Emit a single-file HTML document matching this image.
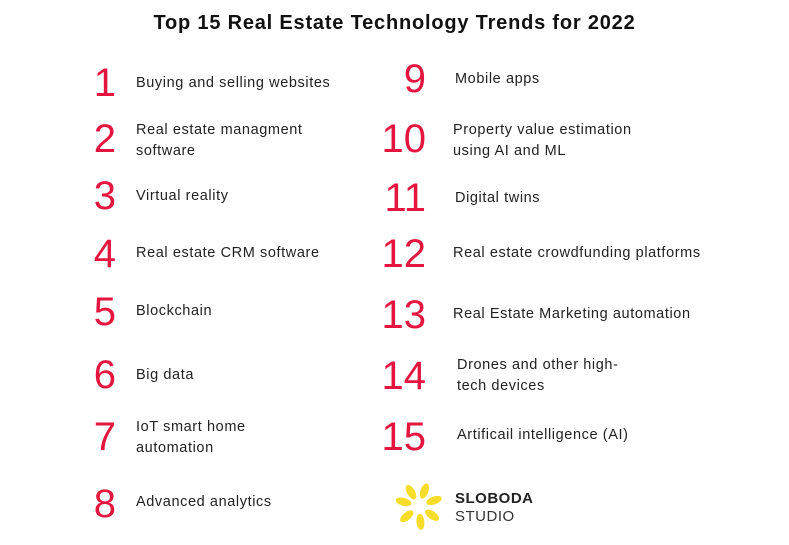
<!DOCTYPE html>
<html><head><style>
body{margin:0;width:789px;height:545px;background:#fff;position:relative;overflow:hidden;font-family:"Liberation Sans",sans-serif}
.t{position:absolute;left:0;width:789px;top:12px;text-align:center;font-weight:bold;font-size:20px;letter-spacing:0.8px;color:#111}
.n{position:absolute;color:#e4163f;font-size:40px;line-height:40px;text-align:right;width:60px;font-weight:normal}
.x{position:absolute;font-size:14.5px;line-height:21px;color:#222;letter-spacing:0.6px}
</style></head><body>
<div class="t">Top 15 Real Estate Technology Trends for 2022</div>

<div class="n" style="left:56px;top:63px">1</div><div class="x" style="left:136px;top:73px">Buying and selling websites</div>
<div class="n" style="left:56px;top:119px">2</div><div class="x" style="left:136px;top:120px">Real estate managment<br>software</div>
<div class="n" style="left:56px;top:176px">3</div><div class="x" style="left:136px;top:186px">Virtual reality</div>
<div class="n" style="left:56px;top:234px">4</div><div class="x" style="left:136px;top:243px">Real estate CRM software</div>
<div class="n" style="left:56px;top:292px">5</div><div class="x" style="left:136px;top:301px">Blockchain</div>
<div class="n" style="left:56px;top:355px">6</div><div class="x" style="left:136px;top:365px">Big data</div>
<div class="n" style="left:56px;top:417px">7</div><div class="x" style="left:136px;top:417px">IoT smart home<br>automation</div>
<div class="n" style="left:56px;top:484px">8</div><div class="x" style="left:136px;top:492px">Advanced analytics</div>

<div class="n" style="left:366px;top:59px">9</div><div class="x" style="left:455px;top:69px">Mobile apps</div>
<div class="n" style="left:366px;top:119px">10</div><div class="x" style="left:453px;top:120px">Property value estimation<br>using AI and ML</div>
<div class="n" style="left:366px;top:178px">11</div><div class="x" style="left:455px;top:188px">Digital twins</div>
<div class="n" style="left:366px;top:234px">12</div><div class="x" style="left:453px;top:243px">Real estate crowdfunding platforms</div>
<div class="n" style="left:366px;top:295px">13</div><div class="x" style="left:453px;top:304px">Real Estate Marketing automation</div>
<div class="n" style="left:366px;top:356px">14</div><div class="x" style="left:457px;top:355px">Drones and other high-<br>tech devices</div>
<div class="n" style="left:366px;top:417px">15</div><div class="x" style="left:457px;top:425px">Artificail intelligence (AI)</div>

<svg style="position:absolute;left:393px;top:480px" width="52" height="52" viewBox="-26 -26 52 52">
<g fill="#f7dd2a">
<ellipse cx="0" cy="-16" rx="4" ry="8" transform="rotate(20)"/>
<ellipse cx="0" cy="-16" rx="4" ry="8" transform="rotate(70)"/>
<ellipse cx="0" cy="-16" rx="4" ry="8" transform="rotate(125)"/>
<ellipse cx="0" cy="-16" rx="4" ry="8" transform="rotate(175)"/>
<ellipse cx="0" cy="-16" rx="4" ry="8" transform="rotate(230)"/>
<ellipse cx="0" cy="-16" rx="4" ry="8" transform="rotate(285)"/>
<ellipse cx="0" cy="-16" rx="4" ry="8" transform="rotate(330)"/>
</g></svg>
<div style="position:absolute;left:455px;top:490px;font-size:15px;font-weight:bold;color:#222;letter-spacing:0.5px">SLOBODA</div>
<div style="position:absolute;left:455px;top:508px;font-size:15px;color:#333;letter-spacing:0.5px">STUDIO</div>
</body></html>
